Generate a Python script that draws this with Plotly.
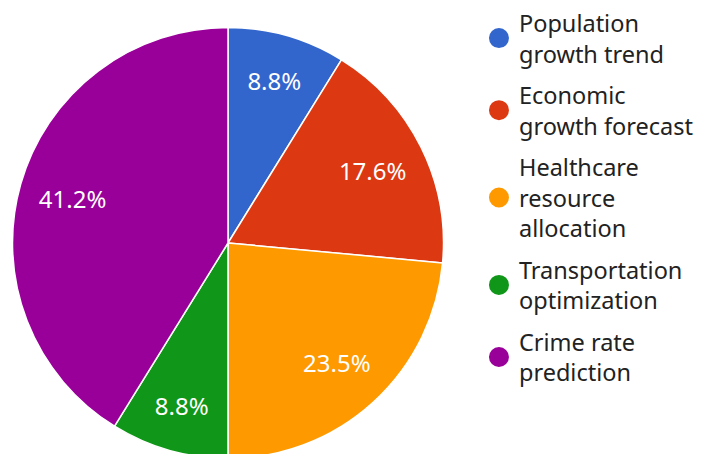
import plotly.graph_objects as go

categories = ["Population growth trend", "Economic growth forecast",
              "Healthcare resource allocation", "Transportation optimization",
              "Crime rate prediction"]
legend_labels = ["Population<br>growth trend", "Economic<br>growth forecast",
                 "Healthcare<br>resource<br>allocation", "Transportation<br>optimization",
                 "Crime rate<br>prediction"]
values = [3, 6, 8, 3, 14]
colors = ["#3366cc", "#dc3912", "#ff9900", "#109618", "#990099"]

pie_domain = dict(x=[0.0064, 0.6186], y=[0.0077, 0.957])

fig = go.Figure()
# filled slices
fig.add_trace(go.Pie(
    labels=categories, values=values, sort=False, direction="clockwise", rotation=0,
    marker=dict(colors=colors, line=dict(color="white", width=1.5)),
    textinfo="none", showlegend=False, hoverinfo="label+percent",
    domain=pie_domain,
))
# transparent ring carrying the percentage labels (places them further out)
fig.add_trace(go.Pie(
    labels=categories, values=values, sort=False, direction="clockwise", rotation=0,
    hole=0.5,
    marker=dict(colors=["rgba(0,0,0,0)"] * len(values), line=dict(width=0)),
    texttemplate="%{percent:.1%}", textposition="inside",
    insidetextorientation="horizontal",
    insidetextfont=dict(family="Noto Sans", size=24, color="white"),
    showlegend=False, hoverinfo="skip",
    domain=pie_domain,
))
for i, (lab, col) in enumerate(zip(legend_labels, colors)):
    fig.add_trace(go.Scatter(
        x=[None], y=[None], mode="markers", name=lab, legendgroup=str(i),
        marker=dict(color=col, size=16, symbol="circle", line=dict(color=col, width=4)),
    ))

fig.update_layout(
    width=704, height=454,
    margin=dict(l=0, r=0, t=0, b=0, autoexpand=False),
    paper_bgcolor="white", plot_bgcolor="white",
    xaxis=dict(visible=False), yaxis=dict(visible=False),
    showlegend=True,
    legend=dict(x=0.669, y=1.0154, xanchor="left", yanchor="top",
                font=dict(family="Noto Sans", size=23.5, color="#222222"),
                tracegroupgap=8, itemwidth=30, bgcolor="rgba(0,0,0,0)",
                maxheight=454),
    font=dict(family="Noto Sans"),
)
fig.write_html("out.html")
